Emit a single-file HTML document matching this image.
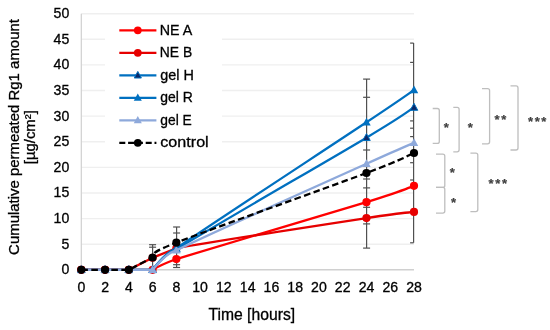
<!DOCTYPE html><html><head><meta charset="utf-8"><style>html,body{margin:0;padding:0;background:#fff;}svg{display:block;}text{font-family:"Liberation Sans",Arial,sans-serif;fill:#000;stroke:#000;stroke-width:0.3px;}</style></head><body>
<svg width="550" height="330" viewBox="0 0 550 330">
<rect width="550" height="330" fill="#fff"/>
<line x1="81.3" y1="244.2" x2="414.0" y2="244.2" stroke="#EFEFEF" stroke-width="1.4"/>
<line x1="81.3" y1="218.6" x2="414.0" y2="218.6" stroke="#EFEFEF" stroke-width="1.4"/>
<line x1="81.3" y1="193.0" x2="414.0" y2="193.0" stroke="#EFEFEF" stroke-width="1.4"/>
<line x1="81.3" y1="167.4" x2="414.0" y2="167.4" stroke="#EFEFEF" stroke-width="1.4"/>
<line x1="81.3" y1="141.8" x2="414.0" y2="141.8" stroke="#EFEFEF" stroke-width="1.4"/>
<line x1="81.3" y1="116.1" x2="414.0" y2="116.1" stroke="#EFEFEF" stroke-width="1.4"/>
<line x1="81.3" y1="90.5" x2="414.0" y2="90.5" stroke="#EFEFEF" stroke-width="1.4"/>
<line x1="81.3" y1="64.9" x2="414.0" y2="64.9" stroke="#EFEFEF" stroke-width="1.4"/>
<line x1="81.3" y1="39.3" x2="414.0" y2="39.3" stroke="#EFEFEF" stroke-width="1.4"/>
<line x1="81.3" y1="13.7" x2="414.0" y2="13.7" stroke="#EFEFEF" stroke-width="1.4"/>
<line x1="81.3" y1="13.7" x2="81.3" y2="269.8" stroke="#D0D0D0" stroke-width="1.2"/>
<line x1="81.3" y1="269.8" x2="414.0" y2="269.8" stroke="#D0D0D0" stroke-width="1.4"/>
<text x="69.3" y="274.25" font-size="14.1" text-anchor="end">0</text>
<text x="69.3" y="248.64" font-size="14.1" text-anchor="end">5</text>
<text x="69.3" y="223.03" font-size="14.1" text-anchor="end">10</text>
<text x="69.3" y="197.42" font-size="14.1" text-anchor="end">15</text>
<text x="69.3" y="171.81" font-size="14.1" text-anchor="end">20</text>
<text x="69.3" y="146.20" font-size="14.1" text-anchor="end">25</text>
<text x="69.3" y="120.59" font-size="14.1" text-anchor="end">30</text>
<text x="69.3" y="94.98" font-size="14.1" text-anchor="end">35</text>
<text x="69.3" y="69.37" font-size="14.1" text-anchor="end">40</text>
<text x="69.3" y="43.76" font-size="14.1" text-anchor="end">45</text>
<text x="69.3" y="18.15" font-size="14.1" text-anchor="end">50</text>
<text x="81.30" y="291.6" font-size="14.1" text-anchor="middle">0</text>
<text x="105.06" y="291.6" font-size="14.1" text-anchor="middle">2</text>
<text x="128.83" y="291.6" font-size="14.1" text-anchor="middle">4</text>
<text x="152.59" y="291.6" font-size="14.1" text-anchor="middle">6</text>
<text x="176.36" y="291.6" font-size="14.1" text-anchor="middle">8</text>
<text x="200.12" y="291.6" font-size="14.1" text-anchor="middle">10</text>
<text x="223.88" y="291.6" font-size="14.1" text-anchor="middle">12</text>
<text x="247.65" y="291.6" font-size="14.1" text-anchor="middle">14</text>
<text x="271.41" y="291.6" font-size="14.1" text-anchor="middle">16</text>
<text x="295.18" y="291.6" font-size="14.1" text-anchor="middle">18</text>
<text x="318.94" y="291.6" font-size="14.1" text-anchor="middle">20</text>
<text x="342.70" y="291.6" font-size="14.1" text-anchor="middle">22</text>
<text x="366.47" y="291.6" font-size="14.1" text-anchor="middle">24</text>
<text x="390.23" y="291.6" font-size="14.1" text-anchor="middle">26</text>
<text x="414.00" y="291.6" font-size="14.1" text-anchor="middle">28</text>
<text x="251.8" y="319.8" font-size="15.7" text-anchor="middle">Time [hours]</text>
<text transform="translate(19.2,137) rotate(-90)" font-size="14.95" text-anchor="middle">Cumulative permeated Rg1 amount</text>
<text transform="translate(35.4,137.2) rotate(-90)" font-size="14.9" text-anchor="middle">[µg/cm²]</text>
<defs><clipPath id="pa"><rect x="71.3" y="0" width="342.7" height="330"/></clipPath></defs>
<line x1="152.60" y1="244.70" x2="152.60" y2="270.00" stroke="#505050" stroke-width="1.2"/>
<line x1="149.10" y1="244.70" x2="156.10" y2="244.70" stroke="#505050" stroke-width="1.2"/>
<line x1="149.10" y1="247.20" x2="156.10" y2="247.20" stroke="#505050" stroke-width="1.2"/>
<line x1="176.60" y1="227.00" x2="176.60" y2="267.50" stroke="#505050" stroke-width="1.2"/>
<line x1="173.10" y1="227.00" x2="180.10" y2="227.00" stroke="#505050" stroke-width="1.2"/>
<line x1="173.10" y1="233.00" x2="180.10" y2="233.00" stroke="#505050" stroke-width="1.2"/>
<line x1="173.10" y1="264.70" x2="180.10" y2="264.70" stroke="#505050" stroke-width="1.2"/>
<line x1="173.10" y1="267.50" x2="180.10" y2="267.50" stroke="#505050" stroke-width="1.2"/>
<line x1="366.60" y1="79.10" x2="366.60" y2="248.10" stroke="#505050" stroke-width="1.2"/>
<line x1="363.10" y1="79.10" x2="370.10" y2="79.10" stroke="#505050" stroke-width="1.2"/>
<line x1="363.10" y1="97.30" x2="370.10" y2="97.30" stroke="#505050" stroke-width="1.2"/>
<line x1="363.10" y1="150.00" x2="370.10" y2="150.00" stroke="#505050" stroke-width="1.2"/>
<line x1="363.10" y1="179.00" x2="370.10" y2="179.00" stroke="#505050" stroke-width="1.2"/>
<line x1="363.10" y1="187.90" x2="370.10" y2="187.90" stroke="#505050" stroke-width="1.2"/>
<line x1="363.10" y1="207.30" x2="370.10" y2="207.30" stroke="#505050" stroke-width="1.2"/>
<line x1="363.10" y1="223.90" x2="370.10" y2="223.90" stroke="#505050" stroke-width="1.2"/>
<line x1="363.10" y1="248.10" x2="370.10" y2="248.10" stroke="#505050" stroke-width="1.2"/>
<line x1="413.60" y1="43.10" x2="413.60" y2="242.80" stroke="#505050" stroke-width="1.2"/>
<line x1="410.10" y1="43.10" x2="413.60" y2="43.10" stroke="#505050" stroke-width="1.2"/>
<line x1="410.10" y1="62.40" x2="413.60" y2="62.40" stroke="#505050" stroke-width="1.2"/>
<line x1="410.10" y1="120.90" x2="413.60" y2="120.90" stroke="#505050" stroke-width="1.2"/>
<line x1="410.10" y1="128.20" x2="413.60" y2="128.20" stroke="#505050" stroke-width="1.2"/>
<line x1="410.10" y1="136.60" x2="413.60" y2="136.60" stroke="#505050" stroke-width="1.2"/>
<line x1="410.10" y1="162.70" x2="413.60" y2="162.70" stroke="#505050" stroke-width="1.2"/>
<line x1="410.10" y1="180.00" x2="413.60" y2="180.00" stroke="#505050" stroke-width="1.2"/>
<line x1="410.10" y1="242.80" x2="413.60" y2="242.80" stroke="#505050" stroke-width="1.2"/>
<path d="M81.30,269.80 C89.22,269.80 97.14,269.80 105.06,269.80 C112.99,269.80 120.91,269.80 128.83,269.80 C136.75,269.80 144.67,269.80 152.59,269.80 C158.59,266.20 169.36,261.64 176.36,259.04 C212.00,247.78 326.86,214.40 366.47,202.19 C406.07,189.98 406.07,188.53 414.00,185.80" fill="none" stroke="#FF0000" stroke-width="2.30" stroke-linejoin="round"/>
<circle cx="81.30" cy="269.80" r="4.10" fill="#FF0000"/>
<circle cx="105.06" cy="269.80" r="4.10" fill="#FF0000"/>
<circle cx="128.83" cy="269.80" r="4.10" fill="#FF0000"/>
<circle cx="152.59" cy="269.80" r="4.10" fill="#FF0000"/>
<circle cx="176.36" cy="259.04" r="4.10" fill="#FF0000"/>
<circle cx="366.47" cy="202.19" r="4.10" fill="#FF0000"/>
<circle cx="414.00" cy="185.80" r="4.10" fill="#FF0000"/>
<path d="M81.30,269.80 C89.22,269.80 97.14,269.80 105.06,269.80 C112.99,269.80 120.91,269.80 128.83,269.80 C136.75,265.79 144.67,261.78 152.59,257.76 C160.51,254.60 168.43,251.45 176.36,248.29 C212.00,241.67 326.86,224.13 366.47,218.07 C406.07,212.01 406.07,212.95 414.00,211.92" fill="none" stroke="#E60000" stroke-width="2.30" stroke-linejoin="round"/>
<circle cx="81.30" cy="269.80" r="4.10" fill="#E60000"/>
<circle cx="105.06" cy="269.80" r="4.10" fill="#E60000"/>
<circle cx="128.83" cy="269.80" r="4.10" fill="#E60000"/>
<circle cx="152.59" cy="257.76" r="4.10" fill="#E60000"/>
<circle cx="176.36" cy="248.29" r="4.10" fill="#E60000"/>
<circle cx="366.47" cy="218.07" r="4.10" fill="#E60000"/>
<circle cx="414.00" cy="211.92" r="4.10" fill="#E60000"/>
<path d="M81.30,269.80 C89.22,269.80 97.14,269.80 105.06,269.80 C112.99,269.80 120.91,269.80 128.83,269.80 C136.75,269.80 144.67,269.80 152.59,269.80 C159.09,261.80 167.86,251.51 176.36,249.31 C212.00,227.29 326.86,161.30 366.47,137.65 C406.07,114.01 406.07,112.47 414.00,107.43" fill="none" stroke="#0070C0" stroke-width="2.30" stroke-linejoin="round"/>
<path d="M81.30,265.70L85.07,272.67L77.53,272.67Z" fill="#0A2868" stroke="#0070C0" stroke-width="1" stroke-linejoin="round"/>
<path d="M105.06,265.70L108.84,272.67L101.29,272.67Z" fill="#0A2868" stroke="#0070C0" stroke-width="1" stroke-linejoin="round"/>
<path d="M128.83,265.70L132.60,272.67L125.06,272.67Z" fill="#0A2868" stroke="#0070C0" stroke-width="1" stroke-linejoin="round"/>
<path d="M152.59,265.70L156.36,272.67L148.82,272.67Z" fill="#0A2868" stroke="#0070C0" stroke-width="1" stroke-linejoin="round"/>
<path d="M176.36,245.21L180.13,252.18L172.58,252.18Z" fill="#0A2868" stroke="#0070C0" stroke-width="1" stroke-linejoin="round"/>
<path d="M366.47,133.55L370.24,140.52L362.70,140.52Z" fill="#0A2868" stroke="#0070C0" stroke-width="1" stroke-linejoin="round"/>
<path d="M414.00,103.33L417.77,110.30L410.22,110.30Z" fill="#0A2868" stroke="#0070C0" stroke-width="1" stroke-linejoin="round"/>
<path d="M81.30,269.80 C89.22,269.80 97.14,269.80 105.06,269.80 C112.99,269.80 120.91,269.80 128.83,269.80 C136.75,269.80 144.67,269.80 152.59,269.80 C159.09,261.40 167.86,250.69 176.36,248.29 C212.00,223.70 326.86,148.66 366.47,122.29 C406.07,95.91 406.07,95.40 414.00,90.02" fill="none" stroke="#0070C0" stroke-width="2.30" stroke-linejoin="round"/>
<path d="M81.30,265.20L85.53,273.02L77.07,273.02Z" fill="#0070C0"/>
<path d="M105.06,265.20L109.30,273.02L100.83,273.02Z" fill="#0070C0"/>
<path d="M128.83,265.20L133.06,273.02L124.60,273.02Z" fill="#0070C0"/>
<path d="M152.59,265.20L156.82,273.02L148.36,273.02Z" fill="#0070C0"/>
<path d="M176.36,243.69L180.59,251.51L172.12,251.51Z" fill="#0070C0"/>
<path d="M366.47,117.69L370.70,125.51L362.24,125.51Z" fill="#0070C0"/>
<path d="M414.00,85.42L418.23,93.24L409.76,93.24Z" fill="#0070C0"/>
<path d="M81.30,269.80 C89.22,269.80 97.14,269.80 105.06,269.80 C112.99,269.80 120.91,269.80 128.83,269.80 C136.75,269.80 144.67,269.80 152.59,269.80 C159.09,262.00 167.86,252.44 176.36,250.34 C212.00,232.67 326.86,181.70 366.47,163.77 C406.07,145.85 406.07,146.27 414.00,142.77" fill="none" stroke="#8EA9DB" stroke-width="2.30" stroke-linejoin="round"/>
<path d="M81.30,265.20L85.53,273.02L77.07,273.02Z" fill="#8EA9DB"/>
<path d="M105.06,265.20L109.30,273.02L100.83,273.02Z" fill="#8EA9DB"/>
<path d="M128.83,265.20L133.06,273.02L124.60,273.02Z" fill="#8EA9DB"/>
<path d="M152.59,265.20L156.82,273.02L148.36,273.02Z" fill="#8EA9DB"/>
<path d="M176.36,245.74L180.59,253.56L172.12,253.56Z" fill="#8EA9DB"/>
<path d="M366.47,159.17L370.70,166.99L362.24,166.99Z" fill="#8EA9DB"/>
<path d="M414.00,138.17L418.23,145.99L409.76,145.99Z" fill="#8EA9DB"/>
<path d="M81.30,269.80 C89.22,269.80 97.14,269.80 105.06,269.80 C112.99,269.80 120.91,269.80 128.83,269.80 C136.75,265.70 144.67,261.60 152.59,257.51 C160.51,252.98 140.71,256.74 176.36,242.65 C212.00,228.57 326.86,187.93 366.47,172.99 C406.07,158.06 406.07,156.35 414.00,153.02" fill="none" stroke="#000000" stroke-width="2.30" stroke-linejoin="round" stroke-dasharray="6.6,3.4"/>
<circle cx="81.30" cy="269.80" r="4.10" fill="#000000"/>
<circle cx="105.06" cy="269.80" r="4.10" fill="#000000"/>
<circle cx="128.83" cy="269.80" r="4.10" fill="#000000"/>
<circle cx="152.59" cy="257.51" r="4.10" fill="#000000"/>
<circle cx="176.36" cy="242.65" r="4.10" fill="#000000"/>
<circle cx="366.47" cy="172.99" r="4.10" fill="#000000"/>
<circle cx="414.00" cy="153.02" r="4.10" fill="#000000"/>
<rect x="105" y="16" width="117" height="138" fill="#fff"/>
<line x1="119.3" y1="30.30" x2="156.4" y2="30.30" stroke="#FF0000" stroke-width="2.30"/>
<circle cx="137.80" cy="30.30" r="3.89" fill="#FF0000"/>
<text x="159.8" y="34.90" font-size="14.8" textLength="32.50" lengthAdjust="spacingAndGlyphs">NE A</text>
<line x1="119.3" y1="52.80" x2="156.4" y2="52.80" stroke="#E60000" stroke-width="2.30"/>
<circle cx="137.80" cy="52.80" r="3.89" fill="#E60000"/>
<text x="159.8" y="57.40" font-size="14.8" textLength="32.35" lengthAdjust="spacingAndGlyphs">NE B</text>
<line x1="119.3" y1="75.30" x2="156.4" y2="75.30" stroke="#0070C0" stroke-width="2.30"/>
<path d="M137.80,71.43L141.36,78.01L134.24,78.01Z" fill="#0A2868" stroke="#0070C0" stroke-width="1" stroke-linejoin="round"/>
<text x="160.3" y="79.90" font-size="14.8" textLength="33.60" lengthAdjust="spacingAndGlyphs">gel H</text>
<line x1="119.3" y1="97.80" x2="156.4" y2="97.80" stroke="#0070C0" stroke-width="2.30"/>
<path d="M137.80,93.43L141.82,100.86L133.78,100.86Z" fill="#0070C0"/>
<text x="160.3" y="102.40" font-size="14.8" textLength="32.50" lengthAdjust="spacingAndGlyphs">gel R</text>
<line x1="119.3" y1="120.30" x2="156.4" y2="120.30" stroke="#8EA9DB" stroke-width="2.30"/>
<path d="M137.80,115.93L141.82,123.36L133.78,123.36Z" fill="#8EA9DB"/>
<text x="160.3" y="124.90" font-size="14.8" textLength="31.50" lengthAdjust="spacingAndGlyphs">gel E</text>
<line x1="119.3" y1="142.80" x2="156.4" y2="142.80" stroke="#000000" stroke-width="2.30" stroke-dasharray="6,2.8"/>
<circle cx="137.80" cy="142.80" r="3.89" fill="#000000"/>
<text x="160.3" y="147.40" font-size="14.8" textLength="48.40" lengthAdjust="spacingAndGlyphs">control</text>
<path d="M432.7,108.5 H437.3 Q439.3,108.5 439.3,110.5 V141.4 Q439.3,143.4 437.3,143.4 H432.7" fill="none" stroke="#BEBEBE" stroke-width="1.3"/>
<path d="M453.3,107.4 H457.1 Q459.1,107.4 459.1,109.4 V149.8 Q459.1,151.8 457.1,151.8 H453.3" fill="none" stroke="#BEBEBE" stroke-width="1.3"/>
<path d="M482.0,88.6 H487.6 Q489.6,88.6 489.6,90.6 V141.8 Q489.6,143.8 487.6,143.8 H482.0" fill="none" stroke="#BEBEBE" stroke-width="1.3"/>
<path d="M510.5,85.9 H516.0 Q518.0,85.9 518.0,87.9 V148.0 Q518.0,150.0 516.0,150.0 H510.5" fill="none" stroke="#BEBEBE" stroke-width="1.3"/>
<path d="M436.0,154.2 H442.8 Q444.8,154.2 444.8,156.2 V185.4 Q444.8,187.4 442.8,187.4 H436.0" fill="none" stroke="#BEBEBE" stroke-width="1.3"/>
<path d="M436.0,187.4 H442.8 Q444.8,187.4 444.8,189.4 V211.1 Q444.8,213.1 442.8,213.1 H436.0" fill="none" stroke="#BEBEBE" stroke-width="1.3"/>
<path d="M470.4,153.2 H475.8 Q477.8,153.2 477.8,155.2 V209.6 Q477.8,211.6 475.8,211.6 H470.4" fill="none" stroke="#BEBEBE" stroke-width="1.3"/>
<text x="447.0" y="131.9" font-size="13" font-weight="bold" letter-spacing="1.6" style="fill:#404040;stroke:#404040;stroke-width:0.2px" text-anchor="middle">*</text>
<text x="471.0" y="131.9" font-size="13" font-weight="bold" letter-spacing="1.6" style="fill:#404040;stroke:#404040;stroke-width:0.2px" text-anchor="middle">*</text>
<text x="501.2" y="123.8" font-size="13" font-weight="bold" letter-spacing="1.6" style="fill:#404040;stroke:#404040;stroke-width:0.2px" text-anchor="middle">**</text>
<text x="538.0" y="126.0" font-size="13" font-weight="bold" letter-spacing="1.6" style="fill:#404040;stroke:#404040;stroke-width:0.2px" text-anchor="middle">***</text>
<text x="453.2" y="177.3" font-size="13" font-weight="bold" letter-spacing="1.6" style="fill:#404040;stroke:#404040;stroke-width:0.2px" text-anchor="middle">*</text>
<text x="454.4" y="206.5" font-size="13" font-weight="bold" letter-spacing="1.6" style="fill:#404040;stroke:#404040;stroke-width:0.2px" text-anchor="middle">*</text>
<text x="498.6" y="187.9" font-size="13" font-weight="bold" letter-spacing="1.6" style="fill:#404040;stroke:#404040;stroke-width:0.2px" text-anchor="middle">***</text>
</svg></body></html>
